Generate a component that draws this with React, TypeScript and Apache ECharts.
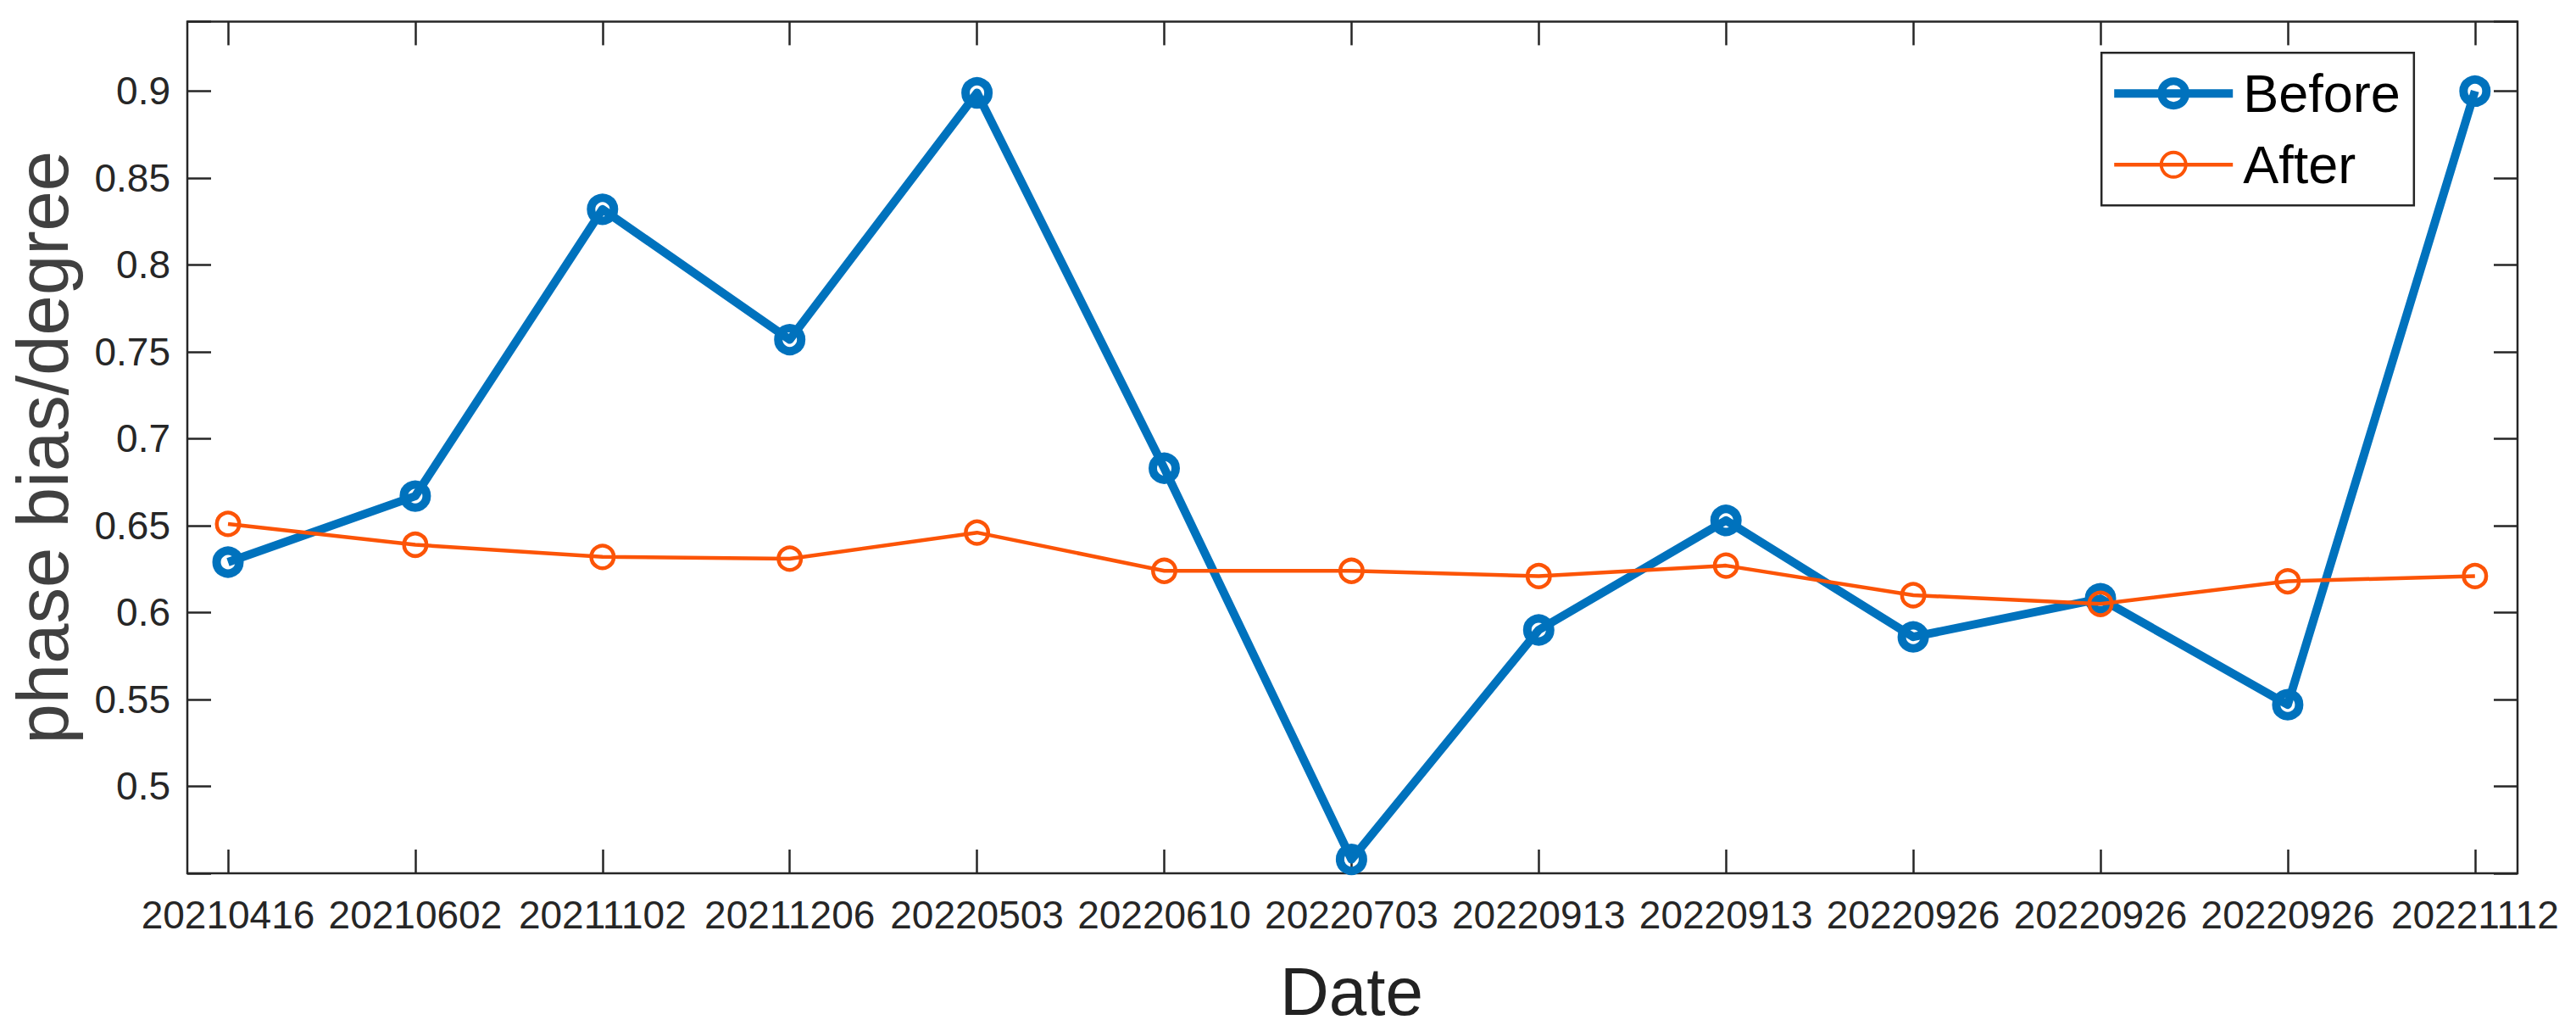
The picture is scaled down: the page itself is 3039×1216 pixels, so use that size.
import React, { useEffect, useRef } from "react";
import * as echarts from "echarts";

const DATES = [
  "20210416", "20210602", "20211102", "20211206", "20220503", "20220610", "20220703",
  "20220913", "20220913", "20220926", "20220926", "20220926", "20221112",
];
const BEFORE = [0.629, 0.667, 0.832, 0.757, 0.899, 0.683, 0.458, 0.59, 0.653, 0.586, 0.608, 0.547, 0.9];
const AFTER = [0.651, 0.639, 0.632, 0.631, 0.646, 0.624, 0.624, 0.621, 0.627, 0.61, 0.605, 0.618, 0.621];
const SERIES_NAMES = ["Before", "After"];
const Y_MIN = 0.45;
const Y_MAX = 0.94;
const Y_STEP = 0.05;

const BLUE = "#0072BD";
const ORANGE = "#FC5407";
const AXIS = "#262626";
const FONT = "'Liberation Sans', Arial, Helvetica, sans-serif";

const ICON_BEFORE =
  "path://M0,14 H140 V24 H0 Z M89,19 A19,19 0 1,1 51,19 A19,19 0 1,1 89,19 Z M80,19 A10,10 0 1,0 60,19 A10,10 0 1,0 80,19 Z";
const ICON_AFTER =
  "path://M0,14.25 H140 V18.75 H0 Z M86.5,16.5 A16.5,16.5 0 1,1 53.5,16.5 A16.5,16.5 0 1,1 86.5,16.5 Z M82.5,16.5 A12.5,12.5 0 1,0 57.5,16.5 A12.5,12.5 0 1,0 82.5,16.5 Z";

export default function App() {
  const ref = useRef<HTMLDivElement>(null);
  useEffect(() => {
    if (!ref.current) return;
    const chart = echarts.init(ref.current, undefined, { renderer: "svg" });
    const yLabel = (v: number) =>
      v < 0.47 || v > 0.92 ? "" : String(Number(v.toFixed(2)));
    const tickStyle = { color: AXIS, width: 2.5 };
    const option: any = {
      animation: false,
      backgroundColor: "#ffffff",
      textStyle: { fontFamily: FONT },
      grid: [
        {
          left: 219.5, top: 25.4, width: 2750.5, height: 1004.6,
          show: true, borderColor: AXIS, borderWidth: 2.5, backgroundColor: "transparent",
          containLabel: false,
        },
        { left: 269, top: 25.4, width: 2650.8, height: 1004.6, containLabel: false },
      ],
      xAxis: [
        { gridIndex: 0, type: "value", min: 0, max: 1, show: false },
        {
          gridIndex: 1, type: "value", position: "bottom", min: 0, max: DATES.length - 1, interval: 1,
          axisLine: { show: false },
          axisTick: { show: true, inside: true, length: 28, lineStyle: tickStyle },
          splitLine: { show: false },
          axisLabel: {
            show: true, margin: 26, fontSize: 46, color: AXIS, fontFamily: FONT,
            formatter: (v: number) => DATES[Math.round(v)] ?? "",
          },
          name: "Date", nameLocation: "middle", nameGap: 99,
          nameTextStyle: { fontSize: 80, color: "#222222", fontFamily: FONT },
        },
        {
          gridIndex: 1, type: "value", position: "top", min: 0, max: DATES.length - 1, interval: 1,
          axisLine: { show: false },
          axisTick: { show: true, inside: true, length: 28, lineStyle: tickStyle },
          splitLine: { show: false },
          axisLabel: { show: false },
        },
      ],
      yAxis: [
        {
          gridIndex: 0, type: "value", position: "left", min: Y_MIN, max: Y_MAX, interval: Y_STEP,
          axisLine: { show: false },
          axisTick: { show: true, inside: true, length: 28, lineStyle: tickStyle },
          splitLine: { show: false },
          axisLabel: { margin: 20, fontSize: 46, color: AXIS, fontFamily: FONT, formatter: yLabel },
          name: "phase bias/degree", nameLocation: "middle", nameGap: 128,
          nameTextStyle: { fontSize: 85, color: "#404040", fontFamily: FONT },
        },
        {
          gridIndex: 0, type: "value", position: "right", min: Y_MIN, max: Y_MAX, interval: Y_STEP,
          axisLine: { show: false },
          axisTick: { show: true, inside: true, length: 28, lineStyle: tickStyle },
          splitLine: { show: false },
          axisLabel: { show: false },
        },
        { gridIndex: 1, type: "value", min: Y_MIN, max: Y_MAX, show: false },
      ],
      legend: {
        show: true,
        orient: "vertical",
        left: 2479.2,
        top: 62.3,
        padding: [16, 16, 16, 15],
        itemGap: 20,
        itemWidth: 140,
        itemHeight: 38,
        symbolKeepAspect: true,
        borderColor: AXIS,
        borderWidth: 2.5,
        backgroundColor: "#ffffff",
        textStyle: { fontSize: 63, color: "#000000", fontFamily: FONT, lineHeight: 64, padding: [0, 0, 0, 7] },
        itemStyle: { borderWidth: 0 },
        data: [
          { name: SERIES_NAMES[0], icon: ICON_BEFORE, itemStyle: { color: BLUE, borderWidth: 0 } },
          { name: SERIES_NAMES[1], icon: ICON_AFTER, itemStyle: { color: ORANGE, borderWidth: 0 } },
        ],
      },
      series: [
        {
          name: SERIES_NAMES[0],
          type: "line",
          xAxisIndex: 1,
          yAxisIndex: 2,
          data: DATES.map((_, i) => [i, BEFORE[i]]),
          symbol: "circle",
          symbolSize: 27,
          lineStyle: { color: BLUE, width: 10, join: "round" },
          itemStyle: { color: "rgba(255,255,255,0)", borderColor: BLUE, borderWidth: 10 },
          color: BLUE,
          emphasis: { disabled: true },
          z: 3,
        },
        {
          name: SERIES_NAMES[1],
          type: "line",
          xAxisIndex: 1,
          yAxisIndex: 2,
          data: DATES.map((_, i) => [i, AFTER[i]]),
          symbol: "circle",
          symbolSize: 26.5,
          lineStyle: { color: ORANGE, width: 4.5 },
          itemStyle: { color: "rgba(255,255,255,0)", borderColor: ORANGE, borderWidth: 4.5 },
          color: ORANGE,
          emphasis: { disabled: true },
          z: 4,
        },
      ],
    };
    chart.setOption(option);
    return () => chart.dispose();
  }, []);
  return (
    <div
      ref={ref}
      style={{ position: "fixed", left: 0, top: 0, width: 3039, height: 1216, background: "#ffffff" }}
    />
  );
}
